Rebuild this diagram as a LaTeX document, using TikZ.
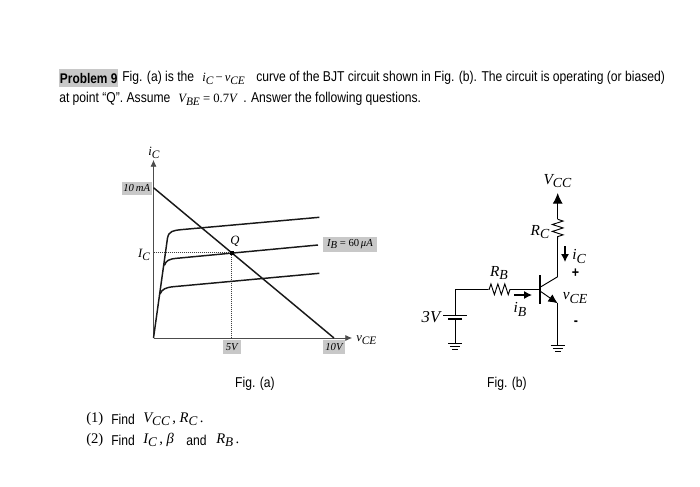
\documentclass[tikz,border=0pt]{standalone}
\usepackage{fontspec}
\setmainfont[FakeStretch=.85]{Liberation Sans}
\newfontfamily\timesf{Liberation Serif}
\usetikzlibrary{arrows.meta, decorations.pathmorphing}
\definecolor{boxgray}{RGB}{200,200,200}

% italic symbol with a lowered subscript
\newcommand{\symb}[2]{{\timesf\itshape #1\raisebox{-.5ex}{\scalebox{.9}{#2}}}}

\begin{document}
\begin{tikzpicture}[
    x=.75pt, y=-.75pt,
    body/.style={
        inner sep=0pt, anchor=west, font=\fontsize{10.7}{12}\selectfont
    },
    tag/.style={
        fill=boxgray, inner sep=0pt, font=\timesf\itshape\fontsize{8}{9}\selectfont
    },
    sym/.style={
        inner sep=0pt, font=\timesf\fontsize{9.5}{10}\selectfont
    },
    csym/.style={
        inner sep=0pt, font=\timesf\fontsize{11.5}{13}\selectfont
    },
    curve/.style={
        line width=1.1pt, black!90
    },
    axis/.style={
        line width=.5pt, black!70, -{Latex[length=5pt,width=4.5pt]}
    },
    guide/.style={
        line width=.5pt, black!75, densely dotted
    },
    wire/.style={
        line width=.7pt
    },
    res/.style={
        wire, decorate, decoration={zigzag, amplitude=4pt, segment length=5.2pt}
    },
    flow/.style={
        line width=.8pt, -{Latex[length=6pt,width=6pt]}
    },
]

    \useasboundingbox (0,0) rectangle (700,486);

    % problem statement
    \node[fill=boxgray, inner sep=0pt, minimum width=44.2pt, minimum height=14pt, anchor=west,
        font=\bfseries\fontsize{10.5}{12}\selectfont](prob) at (59,78) {Problem 9};
    \node[body](line1a) at (122,78) {Fig. (a) is the};
    \node[sym, anchor=west](line1b) at (202,78.5)
        {\symb{i}{C}\,−\,\symb{v}{CE}};
    \node[body](line1c) at (256,78) {curve of the BJT circuit shown in Fig. (b). The circuit is operating (or biased)};
    \node[body](line2a) at (59,99) {at point “Q”. Assume};
    \node[sym, anchor=west](line2b) at (178,99.5)
        {\symb{V}{BE} = 0.7\textit{V}\hspace{.8pt}};
    \node[body](line2c) at (243,99) {. Answer the following questions.};

    % fig (a)
    \coordinate (o) at (153.5,338);
    \coordinate (ytop) at (153.5,160);
    \coordinate (xend) at (352,338);
    \coordinate (load1) at (153.5,187.7);
    \coordinate (load2) at (334,338);
    \coordinate (q) at (231.7,252.7);
    \coordinate (ic) at (153.5,252.7);
    \coordinate (vq) at (231.7,338);

    \draw[axis] (o) to (ytop);
    \draw[axis] (o) to (xend);
    \draw[guide] (ic) to (q);
    \draw[guide] (q) to (vq);
    \draw[curve] (load1) to (load2);
    \draw[curve] (o) -- (167.5,238) .. controls (169,231) and (173,230.5) .. (181.7,229.6) -- (319.3,217.3);
    \draw[curve] (164.3,265.5) .. controls (166,260.5) and (169,259) .. (176.7,258.3) -- (318,245);
    \draw[curve] (160,294) .. controls (162,289) and (166,287.5) .. (173.3,286.7) -- (319.3,273.3);
    \node[fill, inner sep=0pt, minimum size=3.2pt](qdot) at (q) {};

    \node[sym](ylab) at (154,153) {\symb{i}{C}};
    \node[sym, anchor=west](xlab) at (356,340) {\symb{v}{CE}};
    \node[sym](iclab) at (144,254.5) {\symb{I}{C}};
    \node[sym, font=\timesf\itshape\fontsize{9.5}{10}\selectfont](qlab) at (235,241.5) {Q};
    \node[tag, minimum width=22.5pt, minimum height=10pt](tag10ma) at (136.7,188.3) {10\,mA};
    \node[tag, minimum width=13.3pt, minimum height=10.5pt](tag5v) at (231.8,347) {5V};
    \node[tag, minimum width=16.5pt, minimum height=10.5pt](tag10v) at (334,347) {10V};
    \node[tag, minimum width=40.5pt, minimum height=11.2pt](tagib) at (350,244.2)
        {I\raisebox{-.35ex}{B} {\upshape=} {\upshape60}\,μA};

    % fig (b)
    \coordinate (vcc) at (557.7,193);
    \coordinate (rct) at (557.7,219.3);
    \coordinate (rcb) at (557.7,239.3);
    \coordinate (cpin) at (557.7,276.7);
    \coordinate (cin) at (541,286.7);
    \coordinate (ein) at (541,291.7);
    \coordinate (epin) at (557.7,303.3);
    \coordinate (gnd2) at (557.7,345);
    \coordinate (bart) at (540,275);
    \coordinate (barb) at (540,304);
    \coordinate (bpin) at (540,289.3);
    \coordinate (rbr) at (510,289.3);
    \coordinate (rbl) at (488.3,289.3);
    \coordinate (corner) at (455,289.3);
    \coordinate (batp) at (455,315);
    \coordinate (batn) at (455,319);
    \coordinate (gnd1) at (455,343);

    \draw[flow, line width=.7pt, -{Latex[length=8pt,width=7.5pt]}] (rct) to (vcc);
    \draw[res] (rct) to (rcb);
    \draw[wire] (rcb) to (cpin);
    \draw[wire] (cpin) to (cin);
    \draw[wire, -{Latex[length=7pt,width=6.5pt]}] (ein) to (epin);
    \draw[wire] (epin) to (gnd2);
    \draw[line width=.9pt] (bart) to (barb);
    \draw[wire] (bpin) to (rbr);
    \draw[res] (rbr) to (rbl);
    \draw[wire] (rbl) to (corner);
    \draw[wire] (corner) to (batp);
    \draw[wire] (batn) to (gnd1);
    \draw[wire] (443,315) to (466.7,315);
    \draw[line width=2pt] (448,319) to (461.7,319);

    % ground symbols
    \foreach \gx/\gy in {455/343, 557.7/345} {
        \draw[wire] (\gx-7,\gy) to (\gx+7,\gy);
        \draw[wire] (\gx-4.8,\gy+3) to (\gx+4.8,\gy+3);
        \draw[wire] (\gx-2.8,\gy+6) to (\gx+2.8,\gy+6);
    }

    \coordinate (ica) at (565,246);
    \coordinate (icb) at (565,262);
    \coordinate (iba) at (514,295);
    \coordinate (ibb) at (532,295);
    \draw[flow] (ica) to (icb);
    \draw[flow] (iba) to (ibb);

    \node[csym](vcclab) at (557.5,181) {\symb{V}{CC}};
    \node[csym](rclab) at (540,232) {\symb{R}{C}};
    \node[csym](ibcap) at (520,309.5) {\symb{i}{B}};
    \node[csym](rblab) at (499,273) {\symb{R}{B}};
    \node[csym](iclab2) at (579,256.5) {\symb{i}{C}};
    \node[csym](vcelab) at (575,298) {\symb{v}{CE}};
    \node[csym, font=\timesf\itshape\fontsize{12.5}{14}\selectfont](batlab) at (431,317) {3V};
    \node[sym, font=\bfseries\fontsize{11}{12}\selectfont](plus) at (575.5,273) {+};
    \node[sym, font=\bfseries\fontsize{11}{12}\selectfont](minus) at (576,323) {-};

    % captions
    \node[body, anchor=center](capa) at (255,384) {Fig. (a)};
    \node[body, anchor=center](capb) at (507,384) {Fig. (b)};

    % questions
    \node[body, font=\timesf\fontsize{11}{12}\selectfont](q1n) at (86,419) {(1)};
    \node[body](q1a) at (111,419) {Find};
    \node[sym, anchor=west, font=\timesf\fontsize{11}{12}\selectfont](q1b) at (143,419)
        {\symb{V}{CC}\,, \symb{R}{C}\,.};
    \node[body, font=\timesf\fontsize{11}{12}\selectfont](q2n) at (86,440) {(2)};
    \node[body](q2a) at (111,440) {Find};
    \node[sym, anchor=west, font=\timesf\fontsize{11}{12}\selectfont](q2b) at (143,440)
        {\symb{I}{C}\,, \textit{β}};
    \node[body](q2c) at (186,440) {and};
    \node[sym, anchor=west, font=\timesf\fontsize{11}{12}\selectfont](q2d) at (216,440)
        {\symb{R}{B}\,.};

\end{tikzpicture}
\end{document}
